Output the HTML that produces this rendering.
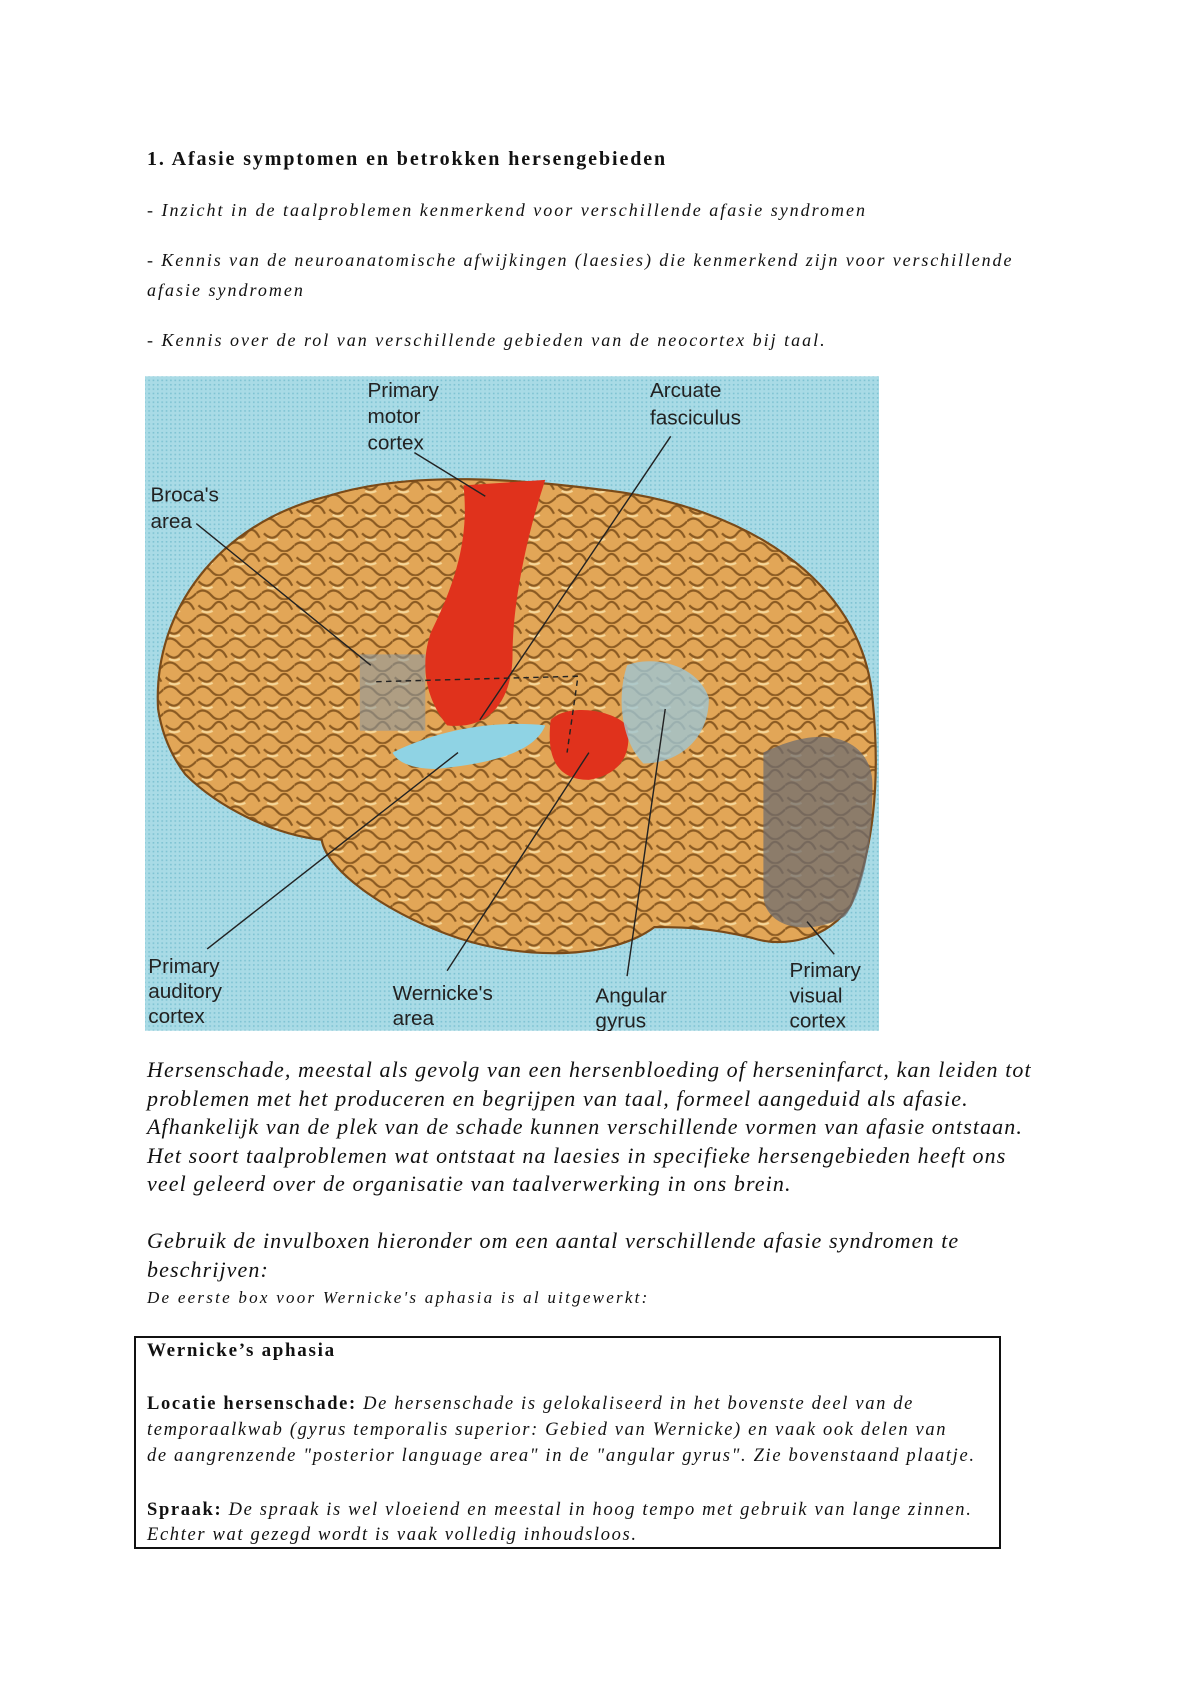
<!DOCTYPE html>
<html><head><meta charset="utf-8"><style>
body{margin:0;width:1200px;height:1698px;background:#fff;position:relative;overflow:hidden;font-family:"Liberation Serif",serif;color:#111}
.t{position:absolute;white-space:nowrap;line-height:1}
.i{font-style:italic}
.b{font-weight:bold;font-style:normal}
.s{font-size:18px;letter-spacing:2px}
.bx{font-size:18.5px;letter-spacing:1.65px}
.p{font-size:22px;letter-spacing:1.1px}
</style></head><body>
<div class="t b" style="left:147px;top:149px;font-size:20px;letter-spacing:1.9px">1. Afasie symptomen en betrokken hersengebieden</div>
<div class="t i s" style="left:147px;top:201px">- Inzicht in de taalproblemen kenmerkend voor verschillende afasie syndromen</div>
<div class="t i s" style="left:147px;top:251px;letter-spacing:1.9px">- Kennis van de neuroanatomische afwijkingen (laesies) die kenmerkend zijn voor verschillende</div>
<div class="t i s" style="left:147px;top:281px">afasie syndromen</div>
<div class="t i s" style="left:147px;top:331px">- Kennis over de rol van verschillende gebieden van de neocortex bij taal.</div>

<svg style="position:absolute;left:145px;top:376px" width="734" height="655" viewBox="133 345 673 600">
<defs>
<pattern id="dots" width="4" height="4" patternUnits="userSpaceOnUse"><rect width="4" height="4" fill="#a9dbe6"/><rect width="1.5" height="1.5" fill="#7fc3d3"/></pattern>
<pattern id="gy" width="30" height="22" patternUnits="userSpaceOnUse"><rect width="30" height="22" fill="#e2a657"/><path d="M2 5 q8 8 14 0 t12 4 M0 16 q7 -6 14 2 t16 -2" stroke="#8a5a22" stroke-width="2" fill="none"/><path d="M5 10 q5 3 10 0" stroke="#f5d79a" stroke-width="2" fill="none"/></pattern>
</defs>
<rect x="133" y="345" width="673" height="600" fill="url(#dots)"/>
<path d="M145 650 C140 560 200 480 300 455 C380 430 480 440 560 450 C680 465 790 530 800 640 C808 720 800 780 780 830 C760 860 720 870 690 860 C650 850 620 850 600 850 C560 880 480 880 420 860 C360 840 300 800 295 770 C250 765 200 740 170 710 C155 690 148 670 145 650 Z" fill="url(#gy)" stroke="#7a4a18" stroke-width="2"/>
<path d="M700 690 C760 660 800 680 800 720 C800 780 790 820 775 840 C740 860 700 850 700 820 Z" fill="#6f6d70" opacity="0.75"/>
<path d="M425 445 L500 440 C480 500 470 560 470 600 C470 640 450 670 410 665 C390 640 385 610 395 580 C420 530 430 490 425 445 Z" fill="#e0321c"/>
<path d="M505 660 C520 645 560 650 575 665 C580 690 570 710 540 715 C515 715 500 700 505 660 Z" fill="#e0321c"/>
<path d="M575 610 C600 600 640 610 650 640 C650 680 620 700 590 700 C570 680 565 640 575 610 Z" fill="#9fc6d3" opacity="0.8"/>
<path d="M330 600 L390 600 L390 670 L330 670 Z" fill="#8e9aa0" opacity="0.6"/>
<path d="M360 690 C400 670 450 660 500 665 C490 690 450 700 400 705 C380 705 365 700 360 690 Z" fill="#8fd3e4"/>
<g stroke="#222" stroke-width="1.3" fill="none">
<line x1="380" y1="415" x2="445" y2="455"/>
<line x1="615" y1="400" x2="440" y2="660"/>
<line x1="180" y1="480" x2="340" y2="610"/>
<line x1="190" y1="870" x2="420" y2="690"/>
<line x1="410" y1="890" x2="540" y2="690"/>
<line x1="575" y1="895" x2="610" y2="650"/>
<line x1="765" y1="875" x2="740" y2="845"/>
<path d="M345 625 L530 620 L520 690" stroke-dasharray="5 4"/>
</g>
<g font-family="Liberation Sans, sans-serif" font-size="19" fill="#222">
<text x="337" y="364">Primary</text><text x="337" y="388">motor</text><text x="337" y="412">cortex</text>
<text x="596" y="364">Arcuate</text><text x="596" y="389">fasciculus</text>
<text x="138" y="460">Broca's</text><text x="138" y="484">area</text>
<text x="136" y="892">Primary</text><text x="136" y="915">auditory</text><text x="136" y="938">cortex</text>
<text x="360" y="917">Wernicke's</text><text x="360" y="940">area</text>
<text x="546" y="919">Angular</text><text x="546" y="942">gyrus</text>
<text x="724" y="896">Primary</text><text x="724" y="919">visual</text><text x="724" y="942">cortex</text>
</g>
</svg>

<div class="t i p" style="left:147px;top:1059px">Hersenschade, meestal als gevolg van een hersenbloeding of herseninfarct, kan leiden tot</div>
<div class="t i p" style="left:147px;top:1088px">problemen met het produceren en begrijpen van taal, formeel aangeduid als afasie.</div>
<div class="t i p" style="left:147px;top:1116px">Afhankelijk van de plek van de schade kunnen verschillende vormen van afasie ontstaan.</div>
<div class="t i p" style="left:147px;top:1145px">Het soort taalproblemen wat ontstaat na laesies in specifieke hersengebieden heeft ons</div>
<div class="t i p" style="left:147px;top:1173px">veel geleerd over de organisatie van taalverwerking in ons brein.</div>
<div class="t i p" style="left:147px;top:1230px">Gebruik de invulboxen hieronder om een aantal verschillende afasie syndromen te</div>
<div class="t i p" style="left:147px;top:1259px">beschrijven:</div>
<div class="t i" style="left:147px;top:1289px;font-size:17px;letter-spacing:2.25px">De eerste box voor Wernicke's aphasia is al uitgewerkt:</div>

<div style="position:absolute;left:134px;top:1336px;width:863px;height:209px;border:2px solid #111"></div>
<div class="t b" style="left:147px;top:1341px;font-size:19px;letter-spacing:1.7px">Wernicke’s aphasia</div>
<div class="t i bx" style="left:147px;top:1395px"><b style="font-style:normal">Locatie hersenschade:</b> De hersenschade is gelokaliseerd in het bovenste deel van de</div>
<div class="t i bx" style="left:147px;top:1421px">temporaalkwab (gyrus temporalis superior: Gebied van Wernicke) en vaak ook delen van</div>
<div class="t i bx" style="left:147px;top:1447px">de aangrenzende "posterior language area" in de "angular gyrus". Zie bovenstaand plaatje.</div>
<div class="t i bx" style="left:147px;top:1501px"><b style="font-style:normal">Spraak:</b> De spraak is wel vloeiend en meestal in hoog tempo met gebruik van lange zinnen.</div>
<div class="t i bx" style="left:147px;top:1526px">Echter wat gezegd wordt is vaak volledig inhoudsloos.</div>
</body></html>
